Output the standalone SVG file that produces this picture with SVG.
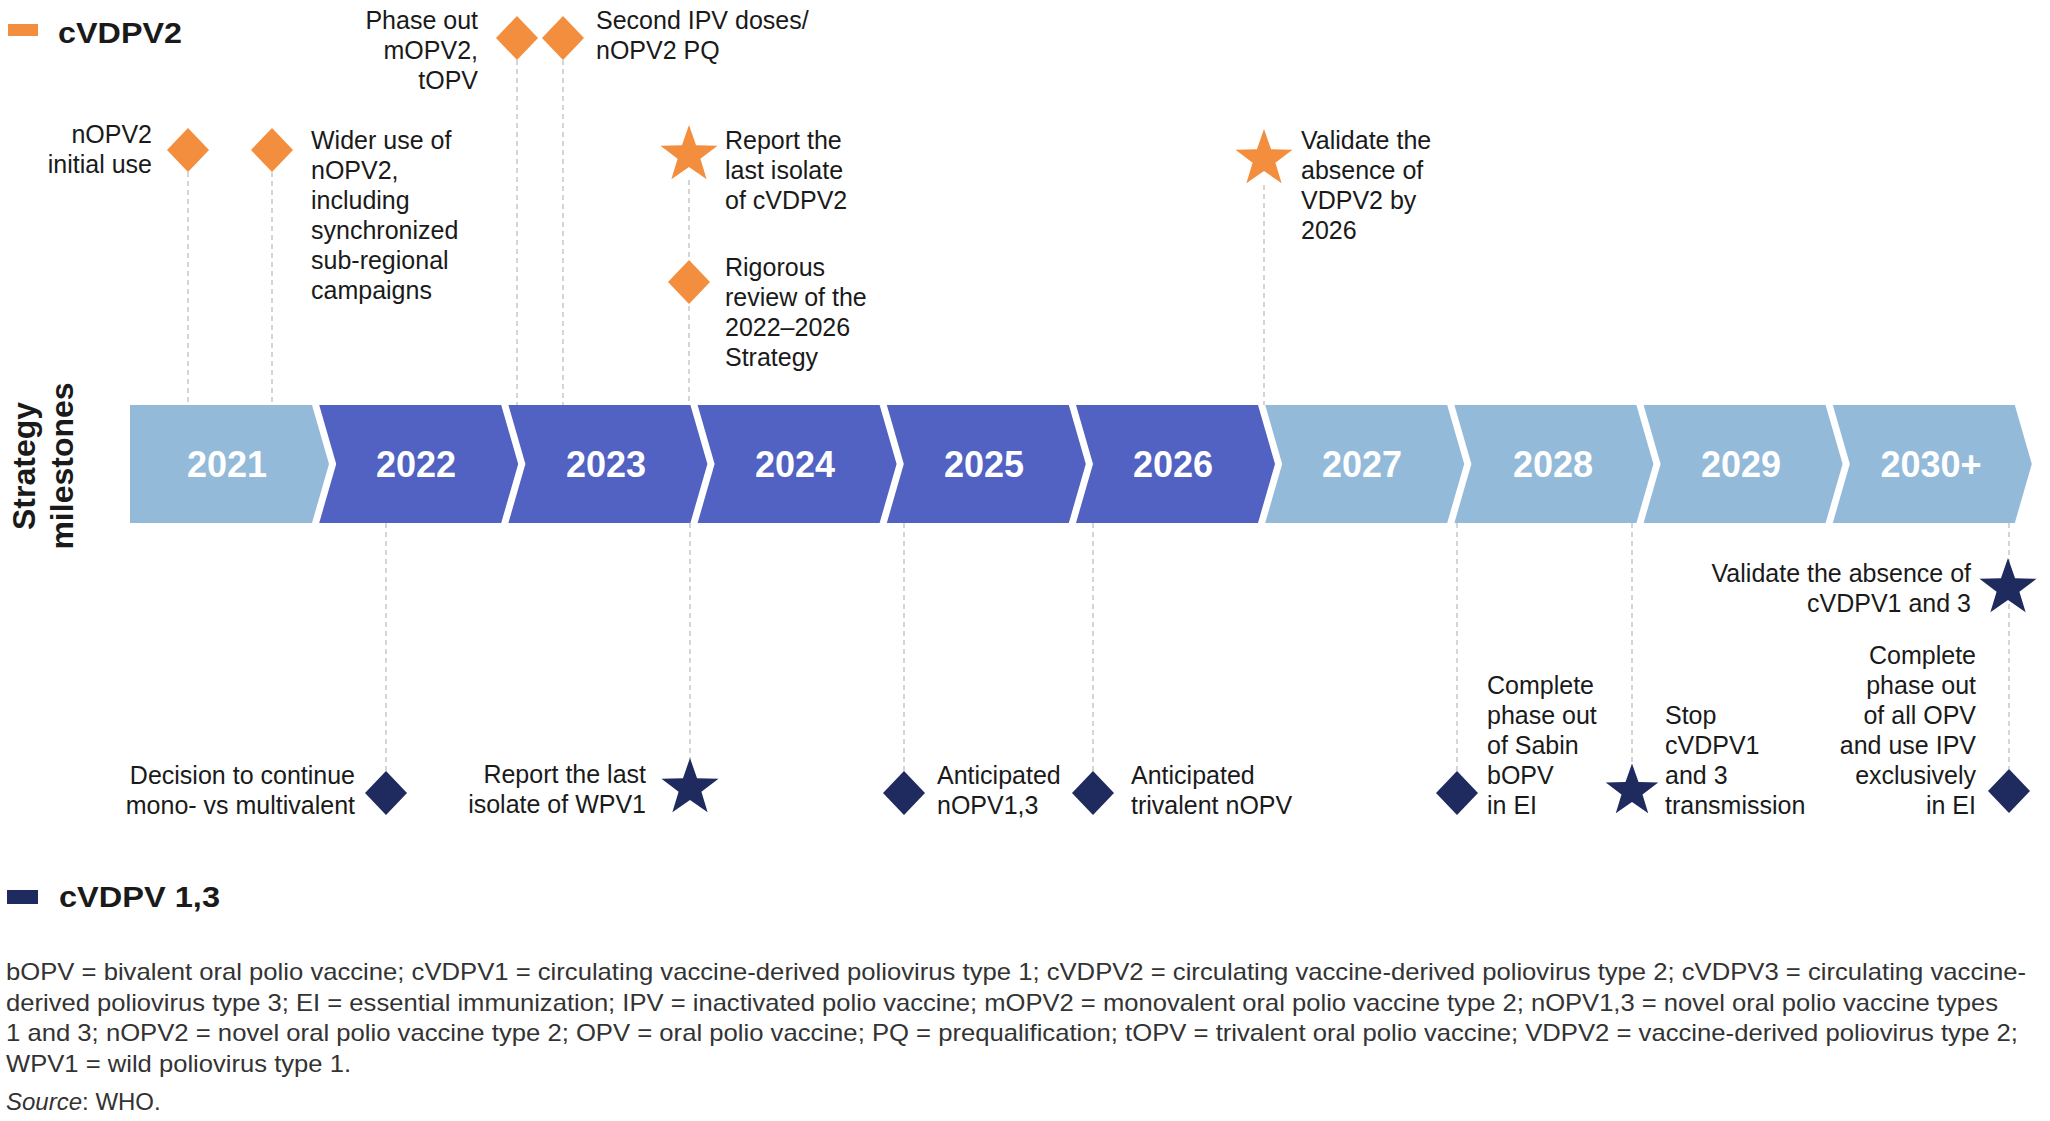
<svg xmlns="http://www.w3.org/2000/svg" width="2050" height="1121" viewBox="0 0 2050 1121">
<defs>
<path id="dia" d="M0,-22 L21,0 L0,22 L-21,0 Z"/>
<path id="star" d="M0,-30 L7.05,-9.71 L28.53,-9.27 L11.41,3.71 L17.63,24.27 L0,12 L-17.63,24.27 L-11.41,3.71 L-28.53,-9.27 L-7.05,-9.71 Z"/>
</defs>
<style>
text{font-family:"Liberation Sans",Arial,Helvetica,sans-serif;fill:#1a1a1a}
.lbl{font-size:25px}
.end{text-anchor:end}
.yr{font-size:36px;font-weight:bold;fill:#ffffff;text-anchor:middle}
.lgd{font-size:30px;font-weight:bold}
.ax{font-size:32px;font-weight:bold;text-anchor:middle}
.fn{font-size:24px;fill:#333333}
.light{fill:#93bad9}
.dark{fill:#5262c2}
.or{fill:#f28e3d}
.nv{fill:#1f2a5e}
.dash{stroke:#c4c4c4;stroke-width:1.4;stroke-dasharray:5 4;fill:none}
</style>
<rect width="2050" height="1121" fill="#ffffff"/>

<g id="legend-cvdpv2">
<rect x="8" y="24" width="30" height="12" class="or"/>
<text x="58" y="43" class="lgd" textLength="124" lengthAdjust="spacingAndGlyphs">cVDPV2</text>
</g>
<g id="legend-cvdpv13">
<rect x="7" y="890" width="31" height="14" class="nv"/>
<text x="59" y="907" class="lgd" textLength="161" lengthAdjust="spacingAndGlyphs">cVDPV 1,3</text>
</g>

<g id="axis-label">
<text class="ax" transform="translate(35,466) rotate(-90)">Strategy</text>
<text class="ax" transform="translate(73,466) rotate(-90)">milestones</text>
</g>

<g id="connectors">
<line class="dash" x1="188" y1="172" x2="188" y2="405"/>
<line class="dash" x1="272" y1="172" x2="272" y2="405"/>
<line class="dash" x1="517" y1="60" x2="517" y2="405"/>
<line class="dash" x1="563" y1="60" x2="563" y2="405"/>
<line class="dash" x1="689" y1="180" x2="689" y2="405"/>
<line class="dash" x1="1264" y1="185" x2="1264" y2="405"/>
<line class="dash" x1="386" y1="523" x2="386" y2="771"/>
<line class="dash" x1="690" y1="523" x2="690" y2="760"/>
<line class="dash" x1="904" y1="523" x2="904" y2="771"/>
<line class="dash" x1="1093" y1="523" x2="1093" y2="771"/>
<line class="dash" x1="1457" y1="523" x2="1457" y2="771"/>
<line class="dash" x1="1632" y1="523" x2="1632" y2="765"/>
<line class="dash" x1="2009" y1="523" x2="2009" y2="769"/>
</g>

<g id="timeline">
<g id="y2021"><polygon class="light" points="130,405 312,405 329,464 312,523 130,523"/><text class="yr" x="227" y="477">2021</text></g>
<g id="y2022"><polygon class="dark" points="319.2,405 501.2,405 518.2,464 501.2,523 319.2,523 336.2,464"/><text class="yr" x="416" y="477">2022</text></g>
<g id="y2023"><polygon class="dark" points="508.4,405 690.4,405 707.4,464 690.4,523 508.4,523 525.4,464"/><text class="yr" x="606" y="477">2023</text></g>
<g id="y2024"><polygon class="dark" points="697.6,405 879.6,405 896.6,464 879.6,523 697.6,523 714.6,464"/><text class="yr" x="795" y="477">2024</text></g>
<g id="y2025"><polygon class="dark" points="886.8,405 1068.8,405 1085.8,464 1068.8,523 886.8,523 903.8,464"/><text class="yr" x="984" y="477">2025</text></g>
<g id="y2026"><polygon class="dark" points="1076,405 1258,405 1275,464 1258,523 1076,523 1093,464"/><text class="yr" x="1173" y="477">2026</text></g>
<g id="y2027"><polygon class="light" points="1265.2,405 1447.2,405 1464.2,464 1447.2,523 1265.2,523 1282.2,464"/><text class="yr" x="1362" y="477">2027</text></g>
<g id="y2028"><polygon class="light" points="1454.4,405 1636.4,405 1653.4,464 1636.4,523 1454.4,523 1471.4,464"/><text class="yr" x="1553" y="477">2028</text></g>
<g id="y2029"><polygon class="light" points="1643.6,405 1825.6,405 1842.6,464 1825.6,523 1643.6,523 1660.6,464"/><text class="yr" x="1741" y="477">2029</text></g>
<g id="y2030"><polygon class="light" points="1832.8,405 2014.8,405 2031.8,464 2014.8,523 1832.8,523 1849.8,464"/><text class="yr" x="1931" y="477">2030+</text></g>
</g>

<g id="m-nopv2-initial">
<use href="#dia" class="or" x="188" y="150"/>
<text class="lbl end" x="152"><tspan x="152" y="143">nOPV2</tspan><tspan x="152" y="173">initial use</tspan></text>
</g>
<g id="m-wider-use">
<use href="#dia" class="or" x="272" y="150"/>
<text class="lbl" x="311"><tspan x="311" y="149">Wider use of</tspan><tspan x="311" y="179">nOPV2,</tspan><tspan x="311" y="209">including</tspan><tspan x="311" y="239">synchronized</tspan><tspan x="311" y="269">sub-regional</tspan><tspan x="311" y="299">campaigns</tspan></text>
</g>
<g id="m-phase-out-mopv2">
<use href="#dia" class="or" x="517" y="38"/>
<text class="lbl end" x="478"><tspan x="478" y="29">Phase out</tspan><tspan x="478" y="59">mOPV2,</tspan><tspan x="478" y="89">tOPV</tspan></text>
</g>
<g id="m-second-ipv">
<use href="#dia" class="or" x="563" y="38"/>
<text class="lbl" x="596"><tspan x="596" y="29">Second IPV doses/</tspan><tspan x="596" y="59">nOPV2 PQ</tspan></text>
</g>
<g id="m-last-cvdpv2">
<use href="#star" class="or" x="689" y="155"/>
<text class="lbl" x="725"><tspan x="725" y="149">Report the</tspan><tspan x="725" y="179">last isolate</tspan><tspan x="725" y="209">of cVDPV2</tspan></text>
</g>
<g id="m-rigorous-review">
<use href="#dia" class="or" x="689" y="282"/>
<text class="lbl" x="725"><tspan x="725" y="276">Rigorous</tspan><tspan x="725" y="306">review of the</tspan><tspan x="725" y="336">2022–2026</tspan><tspan x="725" y="366">Strategy</tspan></text>
</g>
<g id="m-validate-vdpv2">
<use href="#star" class="or" x="1264" y="159"/>
<text class="lbl" x="1301"><tspan x="1301" y="149">Validate the</tspan><tspan x="1301" y="179">absence of</tspan><tspan x="1301" y="209">VDPV2 by</tspan><tspan x="1301" y="239">2026</tspan></text>
</g>

<g id="m-decision">
<use href="#dia" class="nv" x="386" y="793"/>
<text class="lbl end" x="355"><tspan x="355" y="784">Decision to continue</tspan><tspan x="355" y="814">mono- vs multivalent</tspan></text>
</g>
<g id="m-last-wpv1">
<use href="#star" class="nv" x="690" y="788"/>
<text class="lbl end" x="646"><tspan x="646" y="783">Report the last</tspan><tspan x="646" y="813">isolate of WPV1</tspan></text>
</g>
<g id="m-nopv13">
<use href="#dia" class="nv" x="904" y="793"/>
<text class="lbl" x="937"><tspan x="937" y="784">Anticipated</tspan><tspan x="937" y="814">nOPV1,3</tspan></text>
</g>
<g id="m-trivalent">
<use href="#dia" class="nv" x="1093" y="793"/>
<text class="lbl" x="1131"><tspan x="1131" y="784">Anticipated</tspan><tspan x="1131" y="814">trivalent nOPV</tspan></text>
</g>
<g id="m-sabin-bopv">
<use href="#dia" class="nv" x="1457" y="793"/>
<text class="lbl" x="1487"><tspan x="1487" y="694">Complete</tspan><tspan x="1487" y="724">phase out</tspan><tspan x="1487" y="754">of Sabin</tspan><tspan x="1487" y="784">bOPV</tspan><tspan x="1487" y="814">in EI</tspan></text>
</g>
<g id="m-stop-cvdpv1">
<use href="#star" class="nv" transform="translate(1632,791) scale(0.92)"/>
<text class="lbl" x="1665"><tspan x="1665" y="724">Stop</tspan><tspan x="1665" y="754">cVDPV1</tspan><tspan x="1665" y="784">and 3</tspan><tspan x="1665" y="814">transmission</tspan></text>
</g>
<g id="m-validate-cvdpv13">
<use href="#star" class="nv" x="2008" y="588"/>
<text class="lbl end" x="1971"><tspan x="1971" y="582">Validate the absence of</tspan><tspan x="1971" y="612">cVDPV1 and 3</tspan></text>
</g>
<g id="m-phase-out-all-opv">
<use href="#dia" class="nv" x="2009" y="791"/>
<text class="lbl end" x="1976"><tspan x="1976" y="664">Complete</tspan><tspan x="1976" y="694">phase out</tspan><tspan x="1976" y="724">of all OPV</tspan><tspan x="1976" y="754">and use IPV</tspan><tspan x="1976" y="784">exclusively</tspan><tspan x="1976" y="814">in EI</tspan></text>
</g>

<g id="footnote">
<text class="fn" x="6" y="980" textLength="2020" lengthAdjust="spacingAndGlyphs">bOPV = bivalent oral polio vaccine; cVDPV1 = circulating vaccine-derived poliovirus type 1; cVDPV2 = circulating vaccine-derived poliovirus type 2; cVDPV3 = circulating vaccine-</text>
<text class="fn" x="6" y="1011" textLength="1992" lengthAdjust="spacingAndGlyphs">derived poliovirus type 3; EI = essential immunization; IPV = inactivated polio vaccine; mOPV2 = monovalent oral polio vaccine type 2; nOPV1,3 = novel oral polio vaccine types</text>
<text class="fn" x="6" y="1041" textLength="2012" lengthAdjust="spacingAndGlyphs">1 and 3; nOPV2 = novel oral polio vaccine type 2; OPV = oral polio vaccine; PQ = prequalification; tOPV = trivalent oral polio vaccine; VDPV2 = vaccine-derived poliovirus type 2;</text>
<text class="fn" x="6" y="1072" textLength="345" lengthAdjust="spacingAndGlyphs">WPV1 = wild poliovirus type 1.</text>
<text class="fn" x="6" y="1110"><tspan font-style="italic">Source</tspan>: WHO.</text>
</g>
</svg>
